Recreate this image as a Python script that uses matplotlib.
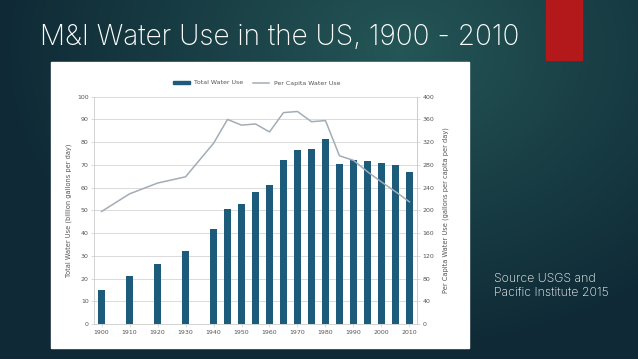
import matplotlib
matplotlib.use("Agg")
import matplotlib.pyplot as plt
import numpy as np
from matplotlib.patches import Rectangle
from matplotlib.lines import Line2D
from matplotlib import font_manager as fm

years = [1900, 1910, 1920, 1930, 1940, 1945, 1950, 1955, 1960, 1965,
         1970, 1975, 1980, 1985, 1990, 1995, 2000, 2005, 2010]
total_use = [15, 21.1, 26.4, 32, 42, 50.4, 53, 58, 61, 72.3,
             76.7, 76.8, 81.5, 70.4, 72.1, 71.7, 70.8, 70.1, 66.9]
per_capita = [198, 229, 248, 259, 318, 360, 350, 352, 338, 372,
              374, 356, 358, 296, 288, 268, 250, 233, 215]
left_ticks = list(range(0, 101, 10))
right_ticks = list(range(0, 401, 40))
x_ticks = list(range(1900, 2011, 10))

# pick a light font weight if available
light_candidates = [f for f in fm.fontManager.ttflist
                    if f.name in ('Lato', 'Open Sans', 'Roboto', 'Inter') and
                    (f.weight in (200, 300, 'light', 'extra light') or 'Light' in f.fname)]
if light_candidates:
    TFAM = light_candidates[0].name
    TWEIGHT = light_candidates[0].weight
else:
    TFAM, TWEIGHT = 'Lato', 'normal'

W, H = 638, 359
fig = plt.figure(figsize=(W / 100, H / 100), dpi=100)

# background gradient
bg = fig.add_axes([0, 0, 1, 1])
yy, xx = np.mgrid[0:H, 0:W]
d = np.sqrt(((xx - 400) / 400.0) ** 2 + ((yy - 50) / 300.0) ** 2)
t = np.clip(d, 0, 1) ** 0.9
c_in = np.array([0x25, 0x57, 0x57]) / 255
c_out = np.array([0x0f, 0x2a, 0x36]) / 255
img = c_in[None, None, :] * (1 - t[..., None]) + c_out[None, None, :] * t[..., None]
bg.imshow(img, extent=[0, W, H, 0], aspect='auto')
bg.set_xlim(0, W)
bg.set_ylim(H, 0)
bg.axis('off')
# red accent
bg.add_patch(Rectangle((546, 0), 36, 60, color='#b3181a'))
# white chart panel
bg.add_patch(Rectangle((51, 62), 418, 286, color='white'))

# title
title = fig.text(40 / W, 1 - 45 / H, "M&I Water Use in the US, 1900 - 2010",
                 color='white', fontsize=20, family=TFAM, fontweight=TWEIGHT,
                 ha='left', va='baseline')
fig.canvas.draw()
r = fig.canvas.get_renderer()
bb = title.get_window_extent(r)
title.set_fontsize(20 * (520 - 40) / bb.width)

src = fig.text(494 / W, 1 - 296 / H, "Source USGS and\nPacific Institute 2015",
               color='white', fontsize=8, family=TFAM, fontweight=TWEIGHT,
               ha='left', va='baseline', linespacing=1.25)
fig.canvas.draw()
bb2 = src.get_window_extent(r)
src.set_fontsize(8 * (608 - 494) / bb2.width)

ax = fig.add_axes([94.3 / W, (H - 324) / H, (416.7 - 94.3) / W, (324 - 96.7) / H])
ax.set_facecolor('white')
bar_color = '#1d5b7b'
line_color = '#a3adb6'
ax.bar(years, total_use, width=2.6, color=bar_color, zorder=3)
ax.set_xlim(1897.4, 2012.6)
ax.set_ylim(0, 100)
ax.set_yticks(left_ticks)
ax.set_xticks(x_ticks)
ax.grid(axis='y', color='#d4d4d4', linewidth=0.6, zorder=0)
ax.spines['top'].set_visible(False)
for s in ['left', 'right', 'bottom']:
    ax.spines[s].set_color('#cccccc')
    ax.spines[s].set_linewidth(0.6)
ax.tick_params(axis='both', labelsize=4.5, colors='#555555', length=2, width=0.5,
               color='#cccccc', pad=2)
ax.set_ylabel("Total Water Use (billion gallons per day)", fontsize=4.8, color='#555555', labelpad=4)

ax2 = ax.twinx()
ax2.plot(years, per_capita, color=line_color, linewidth=1.1, zorder=4)
ax2.set_ylim(0, 400)
ax2.set_yticks(right_ticks)
for s in ['top', 'left', 'bottom']:
    ax2.spines[s].set_visible(False)
ax2.spines['right'].set_color('#cccccc')
ax2.spines['right'].set_linewidth(0.6)
ax2.tick_params(axis='y', labelsize=4.5, colors='#555555', length=2, width=0.5,
                color='#cccccc', pad=2)
ax2.set_ylabel("Per Capita Water Use (gallons per capita per day)", fontsize=4.8,
               color='#555555', rotation=90, labelpad=6)

handles = [Rectangle((0, 0), 1, 1, color=bar_color),
           Line2D([0], [0], color=line_color, linewidth=1.1)]
fig.legend(handles, ["Total Water Use", "Per Capita Water Use"],
           loc='center', bbox_to_anchor=(257 / W, 1 - 83 / H), ncol=2,
           frameon=False, fontsize=4.5, handlelength=2.6, handleheight=0.5,
           columnspacing=1.5, labelcolor='#555555')

fig.savefig("out.png", dpi=100)
